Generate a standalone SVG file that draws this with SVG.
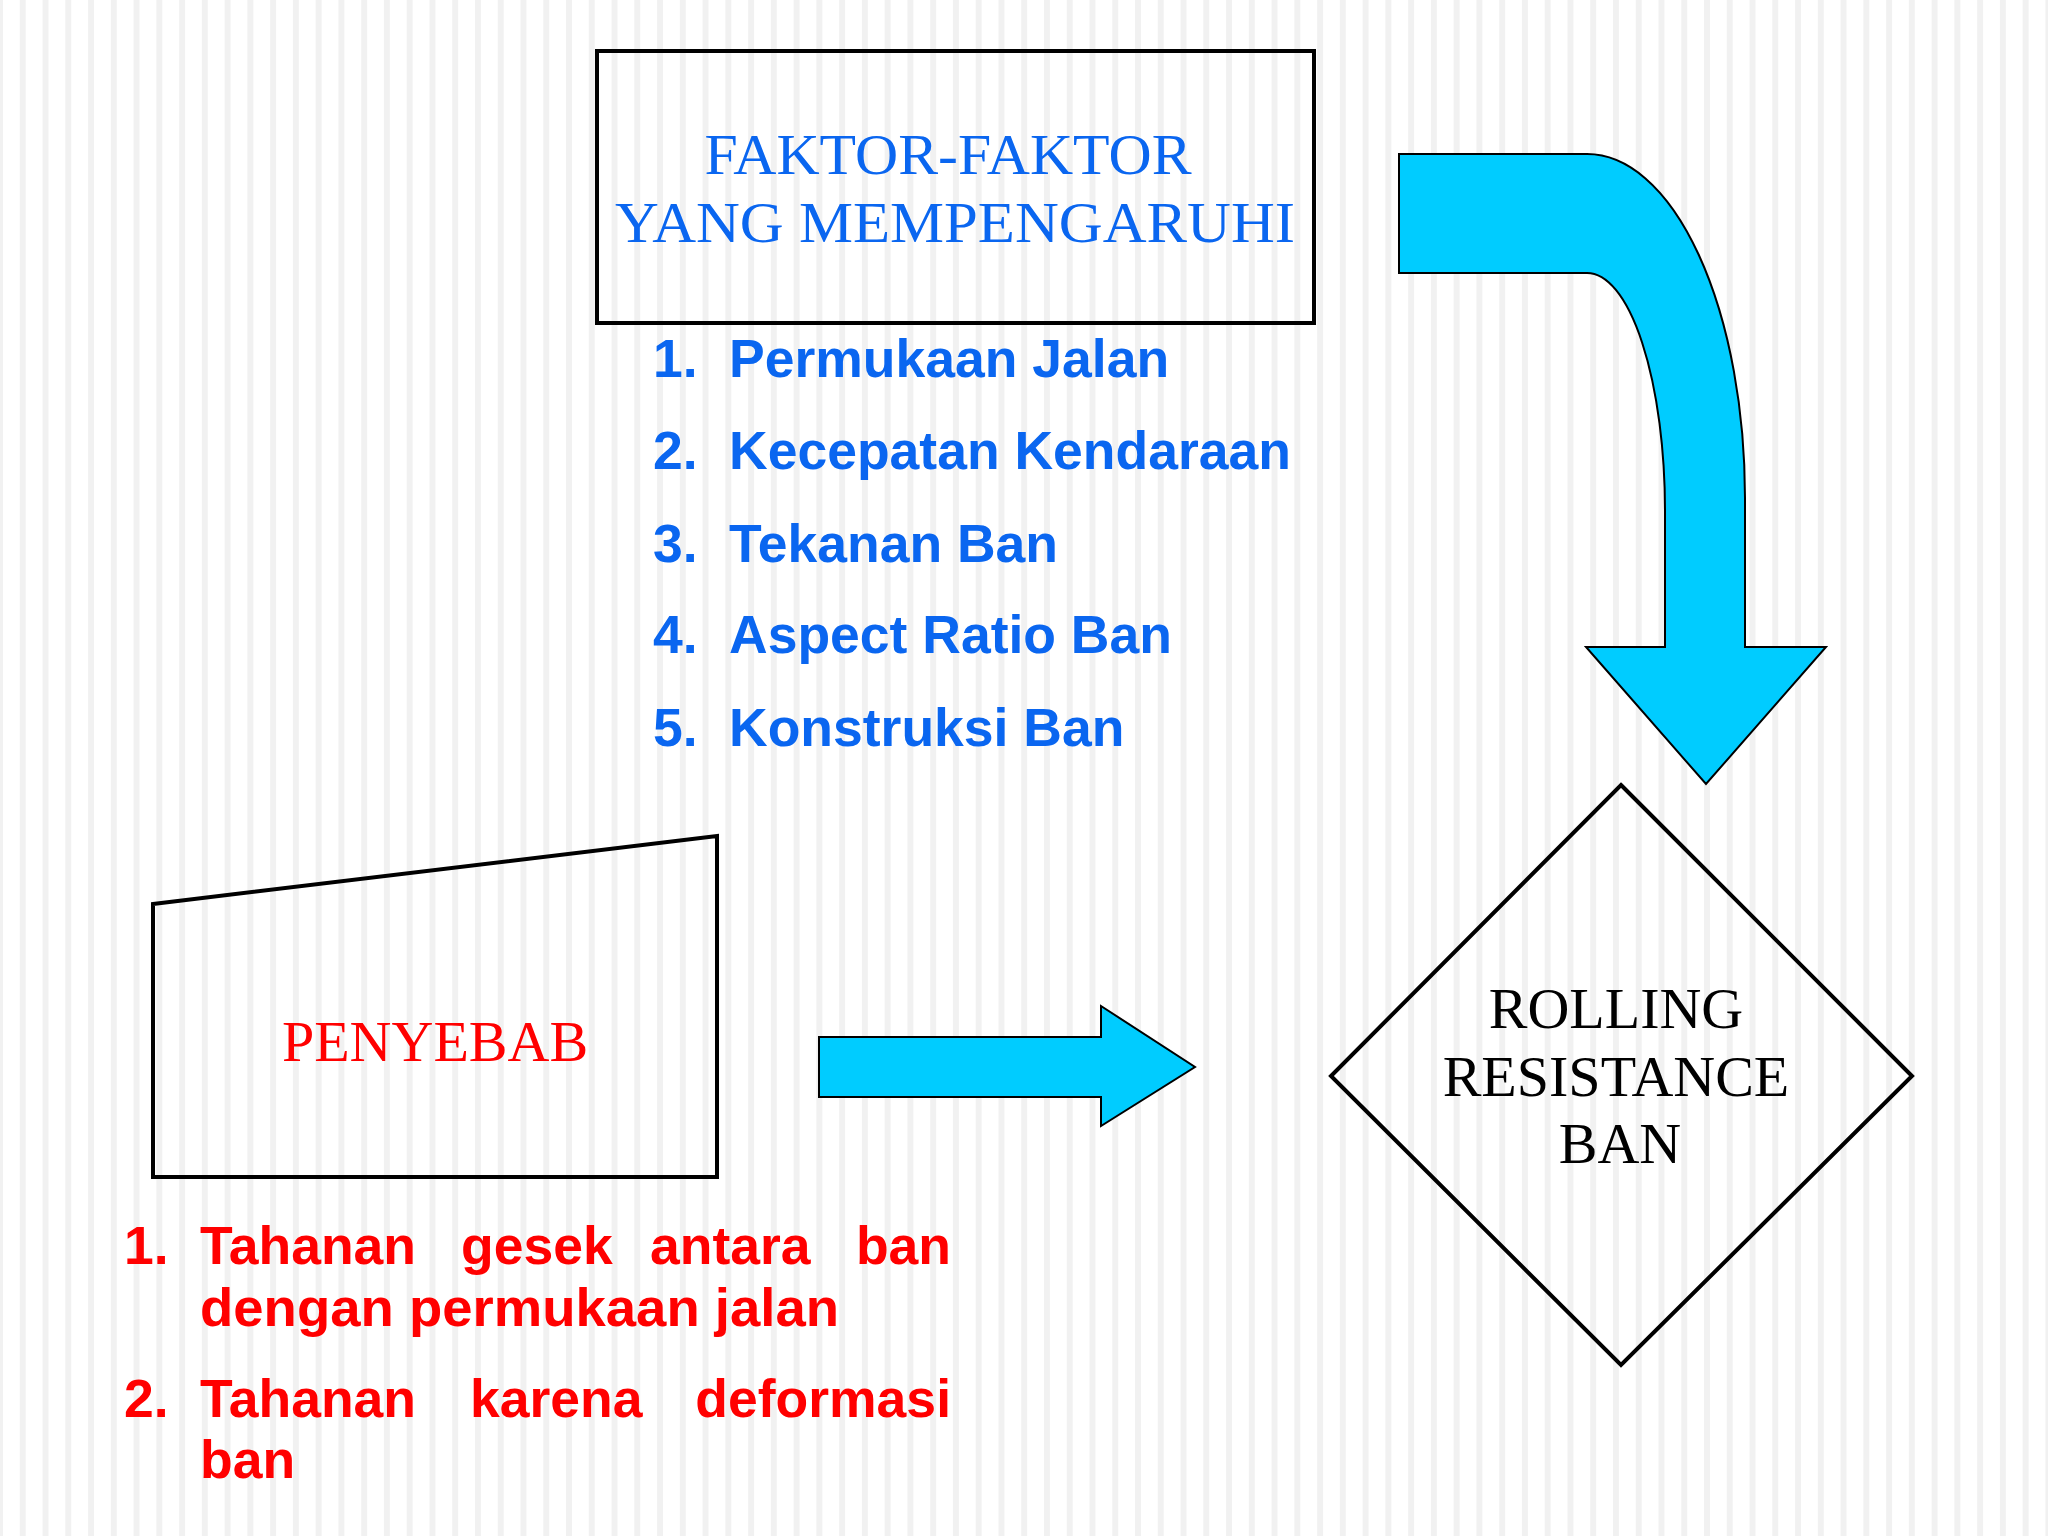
<svg xmlns="http://www.w3.org/2000/svg" width="2048" height="1536" viewBox="0 0 2048 1536">
<defs>
<pattern id="stripes" x="0" y="0" width="22.76" height="1536" patternUnits="userSpaceOnUse">
<rect x="0" y="0" width="3" height="1536" fill="#f1f1f1"/>
<rect x="19.76" y="0" width="3" height="1536" fill="#f1f1f1"/>
</pattern>
</defs>
<style>
.box{fill:none;stroke:#000;stroke-width:4}
.arrow{fill:#00ccff;stroke:#000;stroke-width:2;stroke-linejoin:miter}
.serif{font-family:"Liberation Serif","Times New Roman",serif;font-size:58px}
.list{font-family:"Liberation Sans",Arial,sans-serif;font-weight:bold;font-size:53.5px}
.blue{fill:#0a66f0}
.red{fill:#ff0000}
</style>
<rect width="2048" height="1536" fill="#ffffff"/>
<rect width="2048" height="1536" fill="url(#stripes)"/>

<g id="connectors">
<path class="arrow" d="M1399,154 H1587 A158,344 0 0 1 1745,498 V647 H1826 L1706,784 L1586,647 H1665 V511 A78,238 0 0 0 1587,273 H1399 Z"/>
<path class="arrow" d="M819,1037 H1101 V1006 L1195,1067 L1101,1126 V1097 H819 Z"/>
</g>

<g id="node-faktor">
<rect class="box" x="597" y="51" width="717" height="272"/>
<text class="serif blue" x="948" y="174" text-anchor="middle" font-size="61" textLength="487" lengthAdjust="spacingAndGlyphs">FAKTOR-FAKTOR</text>
<text class="serif blue" x="955" y="242" text-anchor="middle" font-size="61" textLength="680" lengthAdjust="spacingAndGlyphs">YANG MEMPENGARUHI</text>
</g>

<g id="list-faktor" class="list blue">
<text x="653" y="377">1.</text><text x="729" y="377">Permukaan Jalan</text>
<text x="653" y="469">2.</text><text x="729" y="469">Kecepatan Kendaraan</text>
<text x="653" y="562">3.</text><text x="729" y="562">Tekanan Ban</text>
<text x="653" y="653">4.</text><text x="729" y="653">Aspect Ratio Ban</text>
<text x="653" y="746">5.</text><text x="729" y="746">Konstruksi Ban</text>
</g>

<g id="node-penyebab">
<polygon class="box" points="153,904 717,836 717,1177 153,1177"/>
<text class="serif red" x="435" y="1061" text-anchor="middle">PENYEBAB</text>
</g>

<g id="list-penyebab" class="list red">
<text x="124" y="1264">1.</text>
<text x="200" y="1264">Tahanan</text>
<text x="461" y="1264">gesek</text>
<text x="650" y="1264">antara</text>
<text x="951" y="1264" text-anchor="end">ban</text>
<text x="200" y="1326" textLength="639" lengthAdjust="spacingAndGlyphs">dengan permukaan jalan</text>
<text x="124" y="1417">2.</text>
<text x="200" y="1417">Tahanan</text>
<text x="470" y="1417">karena</text>
<text x="951" y="1417" text-anchor="end">deformasi</text>
<text x="200" y="1478">ban</text>
</g>

<g id="node-rolling">
<polygon class="box" points="1621,785 1912,1076 1621,1365 1331,1076"/>
<text class="serif" x="1616" y="1028" text-anchor="middle" fill="#000">ROLLING</text>
<text class="serif" x="1616" y="1096" text-anchor="middle" fill="#000">RESISTANCE</text>
<text class="serif" x="1620" y="1163" text-anchor="middle" fill="#000">BAN</text>
</g>
</svg>
